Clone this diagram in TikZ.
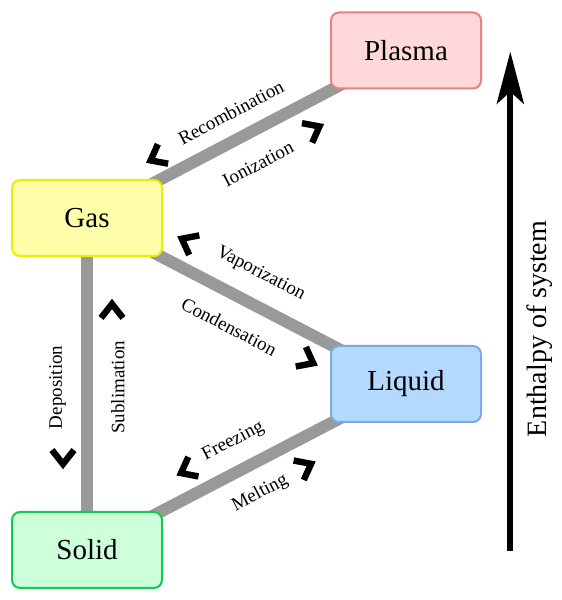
\documentclass[tikz,border=0pt]{standalone}
\usepackage{fontspec}
\setmainfont{Liberation Serif}
\usepackage{xcolor}
\usepackage{tikz}
\usetikzlibrary{arrows.meta, calc, backgrounds}

\definecolor{plasmafill}{RGB}{255,217,217}
\definecolor{plasmadraw}{RGB}{234,128,128}
\definecolor{gasfill}{RGB}{255,255,170}
\definecolor{gasdraw}{RGB}{230,240,0}
\definecolor{liquidfill}{RGB}{179,217,255}
\definecolor{liquiddraw}{RGB}{126,170,224}
\definecolor{solidfill}{RGB}{204,255,218}
\definecolor{soliddraw}{RGB}{20,200,80}
\definecolor{linkgray}{RGB}{153,153,153}

\begin{document}
\begin{tikzpicture}[
x=0.5pt,y=0.5pt,
state/.style={
    rectangle,minimum width=75pt,minimum height=38pt,rounded corners=4pt,line width=1pt,font=\fontsize{14.5}{17}\selectfont
},
link/.style={
    draw=linkgray,line width=6pt
},
trans/.style={
    sloped,inner sep=0pt,font=\fontsize{9.5}{11}\selectfont
},
chevron/.style={
    draw=black,line width=3.2pt,miter limit=10
},
chevfwd/.pic={\path[chevron] (-3.5pt,#1+5.5pt) -- (3.5pt,#1) -- (-3.5pt,#1-5.5pt);},
chevback/.pic={\path[chevron] (3.5pt,#1+5.5pt) -- (-3.5pt,#1) -- (3.5pt,#1-5.5pt);}
]
    \useasboundingbox (0,0) rectangle (562,600);

    \node(Gas)[state,fill=gasfill,draw=gasdraw] at (87,382){Gas};
    \node(Plasma)[state,fill=plasmafill,draw=plasmadraw] at ($(Gas)+(319,167.5)$){Plasma};
    \node(Liquid)[state,fill=liquidfill,draw=liquiddraw] at ($(Gas)+(319,-166)$){Liquid};
    \node(Solid)[state,fill=solidfill,draw=soliddraw] at ($(Gas)+(0,-332)$){Solid};

    \begin{pgfonlayer}{background}
    \draw[link] (Gas.center) --
        node[trans,pos=.49,above=7pt]{Recombination}
        node[trans,pos=.49,below=9.6pt]{Ionization}
        pic[pos=.25,sloped]{chevback=10.7pt}
        pic[pos=.67,sloped]{chevfwd=-13.5pt} (Plasma.center);
    \draw[link] (Gas.center) --
        node[trans,pos=.5,above=8.2pt]{Vaporization}
        node[trans,pos=.49,below=9pt]{Condensation}
        pic[pos=.28,sloped]{chevback=12.7pt}
        pic[pos=.725,sloped]{chevfwd=-12.2pt} (Liquid.center);
    \draw[link] (Solid.center) --
        node[trans,pos=.5,above=7.2pt]{Freezing}
        node[trans,pos=.5,below=7.4pt]{Melting}
        pic[pos=.35,sloped]{chevback=12.4pt}
        pic[pos=.644,sloped]{chevfwd=-13.5pt} (Liquid.center);
    \draw[link] (Solid.center) --
        node[trans,pos=.49,above=7.6pt]{Deposition}
        node[trans,pos=.49,below=9.1pt]{Sublimation}
        pic[pos=.28,sloped]{chevback=12pt}
        pic[pos=.72,sloped]{chevfwd=-12.5pt} (Gas.center);
    \end{pgfonlayer}

    % enthalpy axis
    \coordinate(Low) at (510.3,49.3);
    \coordinate(High) at (510.3,548.3);
    \draw[line width=3pt,-{Stealth[length=26pt,width=13.5pt,inset=6pt]}] (Low) -- (High);
    \node(Enthalpy)[rotate=90,inner sep=0pt,font=\fontsize{14}{17}\selectfont] at (540,271){Enthalpy of system};
\end{tikzpicture}
\end{document}
